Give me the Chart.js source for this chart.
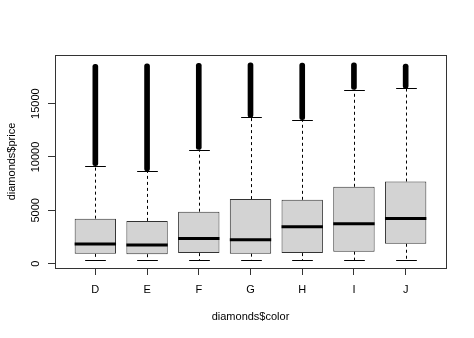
<!DOCTYPE html>
<html>
<head>
<meta charset="utf-8">
<script src="https://cdn.jsdelivr.net/npm/chart.js@4"></script>
<style>
  html, body { margin: 0; padding: 0; background: #fff; }
  canvas { display: block; }
</style>
</head>
<body>
<canvas id="boxChart" width="474" height="338"></canvas>
<script>
// diamonds$price by diamonds$color (five number summaries + outlier span)
const colorLevels = ['D', 'E', 'F', 'G', 'H', 'I', 'J'];
const lowerWhisker = [357, 326, 342, 354, 337, 334, 335];
const lowerHinge = [911, 882, 982, 931, 984, 1120, 1860];
const medianPrice = [1838, 1739, 2344, 2242, 3460, 3730, 4234];
const upperHinge = [4214, 4003, 4868, 6048, 5980, 7202, 7695];
const upperWhisker = [9150, 8680, 10690, 13710, 13460, 16320, 16440];
const outlierLow = [9180, 8700, 10710, 13740, 13490, 16340, 16460];
const outlierHigh = [18693, 18731, 18791, 18818, 18803, 18823, 18710];
const yTickValues = [0, 5000, 10000, 15000];

const fontFamily = "'Liberation Sans', Arial, sans-serif";
const ink = '#000';
const frameColor = '#333';

Chart.defaults.font.family = fontFamily;
Chart.defaults.font.size = 11;
Chart.defaults.color = ink;

const yLo = Math.min(...lowerWhisker);
const yHi = Math.max(...outlierHigh);
const yPad = (yHi - yLo) * 0.04;
const xPad = colorLevels.length * 0.04;

const boxData = colorLevels.map((c, i) => ({ x: i + 1, y: [lowerHinge[i], upperHinge[i]] }));
const outlierData = colorLevels.map((c, i) => ({ x: i + 1, y: [outlierLow[i], outlierHigh[i]] }));

const boxParts = {
    id: 'boxParts',
    beforeDatasetsDraw(chart) {
        const { ctx, scales: { x, y } } = chart;
        const boxes = chart.getDatasetMeta(0).data;
        ctx.save();
        ctx.strokeStyle = ink;
        ctx.lineWidth = 1;
        colorLevels.forEach((c, i) => {
            const px = Math.round(x.getPixelForValue(i + 1)) + 0.5;
            const half = boxes[i].width / 4;
            ctx.setLineDash([3, 3]);
            ctx.beginPath();
            ctx.moveTo(px, y.getPixelForValue(upperHinge[i]));
            ctx.lineTo(px, y.getPixelForValue(upperWhisker[i]));
            ctx.moveTo(px, y.getPixelForValue(lowerHinge[i]));
            ctx.lineTo(px, y.getPixelForValue(lowerWhisker[i]));
            ctx.stroke();
            ctx.setLineDash([]);
            ctx.beginPath();
            [upperWhisker[i], lowerWhisker[i]].forEach(v => {
                const py = Math.round(y.getPixelForValue(v)) + 0.5;
                ctx.moveTo(px - half, py);
                ctx.lineTo(px + half, py);
            });
            ctx.stroke();
        });
        ctx.restore();
    },
    afterDatasetsDraw(chart) {
        const { ctx, chartArea, scales: { x, y } } = chart;
        const boxes = chart.getDatasetMeta(0).data;
        ctx.save();
        ctx.strokeStyle = ink;
        ctx.lineWidth = 3;
        colorLevels.forEach((c, i) => {
            const px = x.getPixelForValue(i + 1);
            const half = boxes[i].width / 2;
            const py = y.getPixelForValue(medianPrice[i]);
            ctx.beginPath();
            ctx.moveTo(px - half, py);
            ctx.lineTo(px + half, py);
            ctx.stroke();
        });
        ctx.lineWidth = 1;
        ctx.strokeStyle = frameColor;
        ctx.strokeRect(Math.round(chartArea.left) + 0.5, Math.round(chartArea.top) + 0.5,
            Math.round(chartArea.right - chartArea.left), Math.round(chartArea.bottom - chartArea.top));
        ctx.restore();
    }
};

new Chart(document.getElementById('boxChart').getContext('2d'), {
    type: 'bar',
    data: {
        datasets: [
            {
                label: 'box',
                data: boxData,
                backgroundColor: '#d3d3d3',
                borderColor: frameColor,
                borderWidth: 1,
                borderSkipped: false,
                grouped: false,
                categoryPercentage: 1,
                barPercentage: 0.8
            },
            {
                label: 'outliers',
                data: outlierData,
                backgroundColor: ink,
                borderWidth: 0,
                borderRadius: 2.5,
                borderSkipped: false,
                grouped: false,
                barThickness: 5
            }
        ]
    },
    options: {
        responsive: false,
        animation: false,
        layout: { padding: { left: 0, top: 55, right: 28, bottom: 0 } },
        plugins: { legend: { display: false }, tooltip: { enabled: false } },
        scales: {
            x: {
                type: 'linear',
                offset: false,
                min: 0.5 - xPad,
                max: colorLevels.length + 0.5 + xPad,
                afterBuildTicks: s => { s.ticks = colorLevels.map((c, i) => ({ value: i + 1 })); },
                afterFit: s => { s.height = 70; },
                ticks: { callback: v => colorLevels[v - 1], padding: 8, maxRotation: 0, autoSkip: false },
                grid: { display: true, offset: false, drawOnChartArea: false, drawTicks: true, tickLength: 7, color: frameColor },
                border: { display: true, color: frameColor },
                title: { display: true, text: 'diamonds$color', padding: { top: 0, bottom: 14 } }
            },
            y: {
                type: 'linear',
                min: yLo - yPad,
                max: yHi + yPad,
                afterBuildTicks: s => { s.ticks = yTickValues.map(v => ({ value: v })); },
                afterFit: s => { s.width = 55; },
                ticks: { callback: v => String(v), minRotation: 90, maxRotation: 90, crossAlign: 'center', padding: -3, autoSkip: false },
                grid: { display: true, drawOnChartArea: false, drawTicks: true, tickLength: 7, color: frameColor },
                border: { display: true, color: frameColor },
                title: { display: true, text: 'diamonds$price', padding: { top: 5, bottom: 0 } }
            }
        }
    },
    plugins: [boxParts]
});
</script>
</body>
</html>
